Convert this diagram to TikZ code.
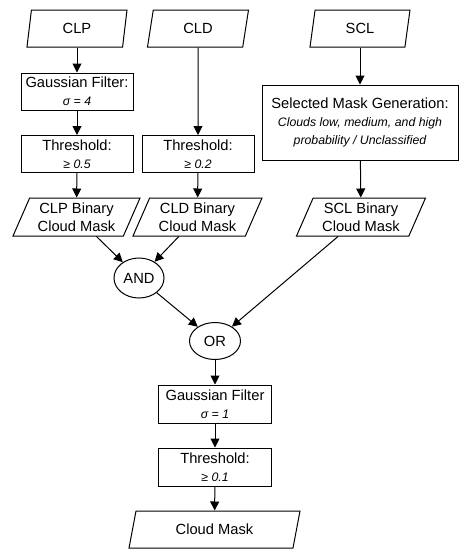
\documentclass[tikz,border=0pt]{standalone}
\usepackage{fontspec}
\setmainfont{Liberation Sans}
\usetikzlibrary{arrows.meta,shapes.geometric}
\newcommand{\mainsz}{\fontsize{14.7}{18}\selectfont}
\newcommand{\note}[1]{{\fontsize{12.3}{18}\selectfont\itshape #1}}

\begin{document}
\begin{tikzpicture}[>={Triangle[length=9pt,width=9pt]}, x=1pt, y=-1pt,
    line width=1pt, font=\mainsz,
    box/.style={draw, rectangle, align=center, inner sep=0pt,
      minimum width=112pt, minimum height=37pt},
    io/.style={draw, trapezium, trapezium left angle=#1,
      trapezium right angle=180-#1, trapezium stretches body=true,
      align=center, inner sep=0pt, minimum height=37pt},
    io/.default=63,
    gate/.style={draw, ellipse, inner sep=0pt,
      minimum width=50pt, minimum height=38pt}]
  \useasboundingbox (0,0) rectangle (474,555);

  % inputs
  \node[io=67, minimum width=100pt] (clp) at (77,28.5) {CLP};
  \node[io=61, minimum width=101pt] (cld) at (198,28.5) {CLD};
  \node[io=64, minimum width=100pt] (scl) at (360,28.5) {SCL};

  % processing of each band
  \node[box] (gauss1) at (77,91.5) {Gaussian Filter:\\ \note{σ = 4}};
  \node[box] (thr1) at (77,154) {Threshold:\\ \note{≥ 0.5}};
  \node[box] (thr2) at (198,154) {Threshold:\\ \note{≥ 0.2}};
  \node[box, minimum width=196pt, minimum height=75pt] (selmask) at (360,122.5)
    {Selected Mask Generation:\\ \note{Clouds low, medium, and high}\\
     \note{probability / Unclassified}};

  % binary masks
  \node[io=60, minimum width=127pt, minimum height=38pt] (clpbin) at (76.5,217)
    {CLP Binary\\ Cloud Mask};
  \node[io=60, minimum width=129pt, minimum height=38pt] (cldbin) at (197.5,217)
    {CLD Binary\\ Cloud Mask};
  \node[io=60, minimum width=129pt, minimum height=38pt] (sclbin) at (361,217)
    {SCL Binary\\ Cloud Mask};

  % combination
  \node[gate, minimum height=40pt] (and) at (139,278) {AND};
  \node[gate, minimum width=51pt, minimum height=37pt] (or) at (215,341) {OR};

  \node[box, minimum width=113pt, minimum height=38pt] (gauss2) at (215,404)
    {Gaussian Filter\\ \note{σ = 1}};
  \node[box, minimum width=113pt, minimum height=38pt] (thr3) at (215,467)
    {Threshold:\\ \note{≥ 0.1}};
  \node[io=57, minimum width=171pt] (mask) at (214.5,529.5) {Cloud Mask};

  \draw[->] (clp) -- (gauss1);
  \draw[->] (gauss1) -- (thr1);
  \draw[->] (thr1) -- (clpbin);
  \draw[->] (cld) -- (thr2);
  \draw[->] (thr2) -- (cldbin);
  \draw[->] (scl) -- (selmask);
  \draw[->] (selmask) -- (sclbin);
  \draw[->] (clpbin) -- (and);
  \draw[->] (cldbin) -- (and);
  \draw[->] (and) -- (or);
  \draw[->] (sclbin) -- (or);
  \draw[->] (or) -- (gauss2);
  \draw[->] (gauss2) -- (thr3);
  \draw[->] (thr3) -- (mask);
\end{tikzpicture}
\end{document}
